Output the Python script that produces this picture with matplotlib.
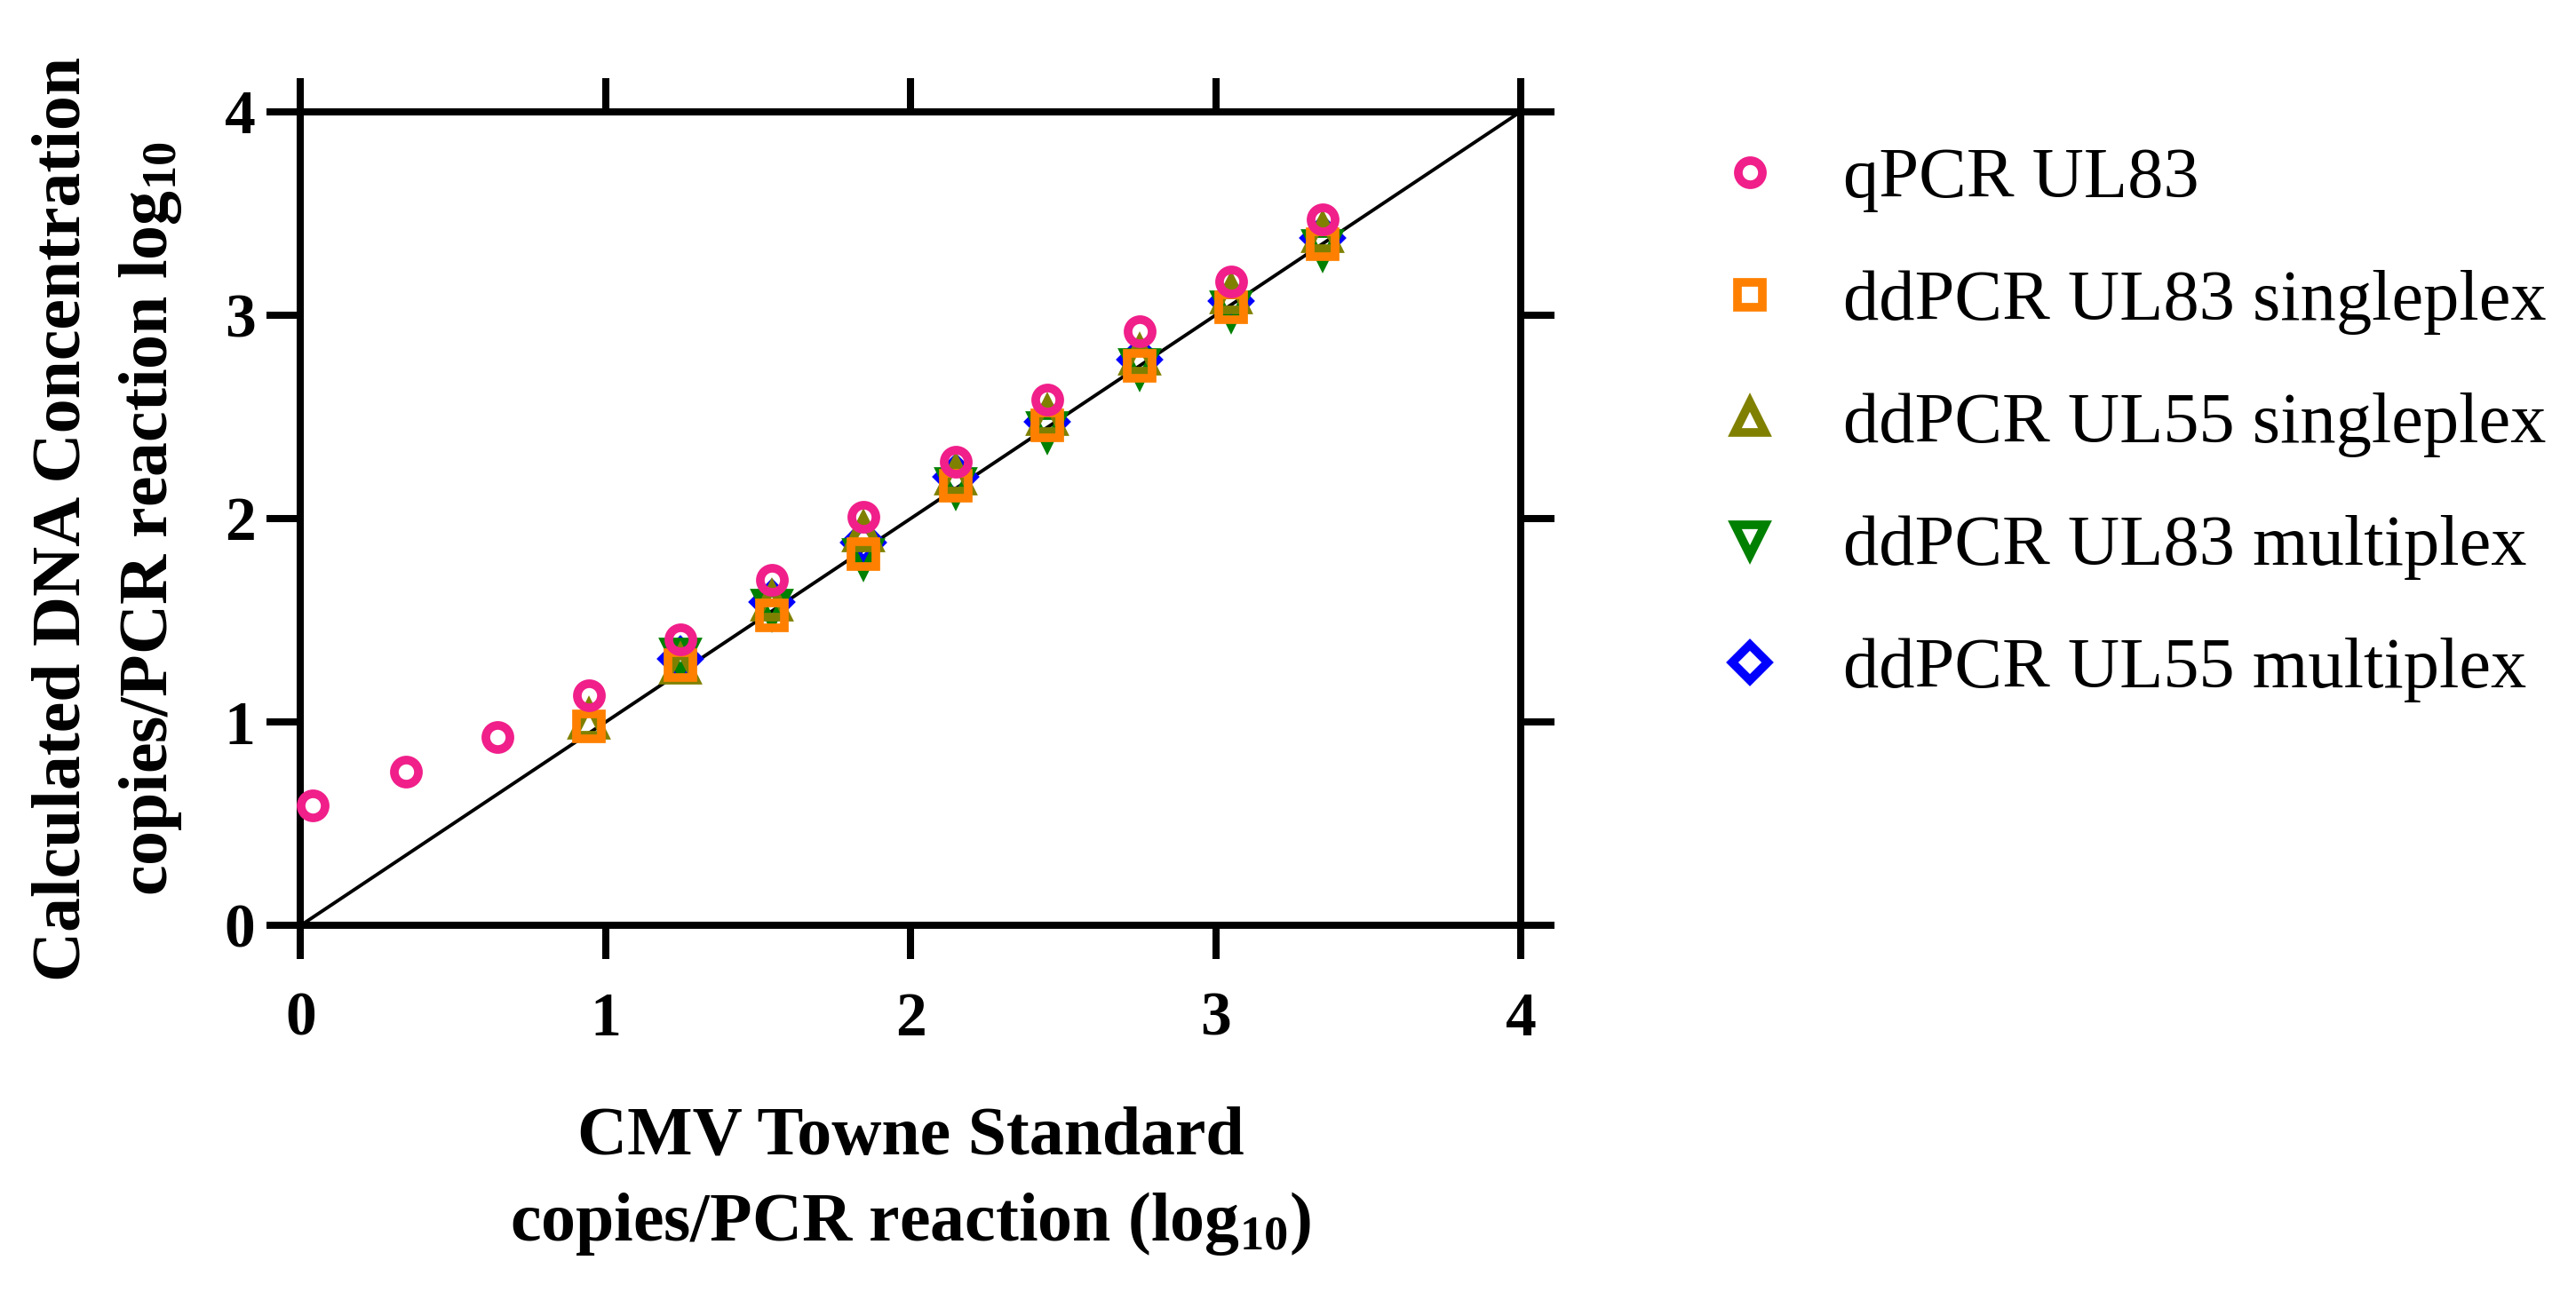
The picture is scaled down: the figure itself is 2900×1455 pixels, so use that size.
import matplotlib
matplotlib.use("Agg")
import matplotlib.pyplot as plt

plt.rcParams['font.family'] = ['Liberation Serif', 'DejaVu Serif']
plt.rcParams['mathtext.fontset'] = 'custom'
plt.rcParams['mathtext.rm'] = 'Liberation Serif'
plt.rcParams['mathtext.bf'] = 'Liberation Serif:bold'
plt.rcParams['mathtext.it'] = 'Liberation Serif:italic'

# ---- data ----
x_all = [0.04, 0.345, 0.645, 0.945, 1.245, 1.545, 1.846, 2.148, 2.448, 2.75, 3.05, 3.352]
qpcr_ul83 = [0.59, 0.755, 0.926, 1.133, 1.405, 1.697, 2.01, 2.279, 2.584, 2.919, 3.166, 3.471]

x_single = [0.945, 1.245, 1.545, 1.846, 2.148, 2.448, 2.75, 3.05, 3.352]
dd_ul83_single = [0.98, 1.28, 1.523, 1.826, 2.16, 2.46, 2.75, 3.04, 3.35]
dd_ul55_single = [1.01, 1.28, 1.59, 1.93, 2.21, 2.50, 2.80, 3.10, 3.40]

x_multi = [1.245, 1.545, 1.846, 2.148, 2.448, 2.75, 3.05, 3.352]
dd_ul83_multi = [1.32, 1.56, 1.81, 2.155, 2.43, 2.74, 3.025, 3.325]
dd_ul55_multi = [1.31, 1.59, 1.88, 2.206, 2.475, 2.78, 3.07, 3.377]

labels = ["qPCR UL83", "ddPCR UL83 singleplex", "ddPCR UL55 singleplex",
          "ddPCR UL83 multiplex", "ddPCR UL55 multiplex"]
colors = ["#F01F8A", "#FF8000", "#808000", "#008000", "#0000FF"]
ticks = [0, 1, 2, 3, 4]
identity = [0, 4]

DPI = 100
fig = plt.figure(figsize=(29.0, 14.55), dpi=DPI)
ax = fig.add_axes([338.3 / 2900, 1 - 1042.3 / 1455, (1712 - 338.3) / 2900, (1042.3 - 125.7) / 1455])

ax.plot(identity, identity, color='black', lw=2.8, zorder=1, solid_capstyle='butt')

mew = 7
series = [
    (x_multi, dd_ul55_multi, 'D', 20, colors[4], labels[4]),
    (x_multi, dd_ul83_multi, 'v', 24, colors[3], labels[3]),
    (x_single, dd_ul55_single, '^', 24, colors[2], labels[2]),
    (x_single, dd_ul83_single, 's', 19.5, colors[1], labels[1]),
    (x_all, qpcr_ul83, 'o', 19.5, colors[0], labels[0]),
]
handles = {}
for i, (xs, ys, m, ms, c, lab) in enumerate(series):
    h, = ax.plot(xs, ys, linestyle='none', marker=m, markersize=ms,
                 markerfacecolor='none', markeredgecolor=c, markeredgewidth=mew,
                 label=lab, zorder=3 + i, clip_on=False)
    handles[lab] = h

ax.set_xlim(0, 4)
ax.set_ylim(0, 4)
ax.set_xticks(ticks)
ax.set_yticks(ticks)
ax.set_xticklabels([str(t) for t in ticks])
ax.set_yticklabels([str(t) for t in ticks])
for s in ax.spines.values():
    s.set_linewidth(5.8)
ax.tick_params(direction='out', length=27.5, width=5.8, top=True, right=True,
               labeltop=False, labelright=False)
ax.tick_params(axis='x', pad=26, labelsize=50)
ax.tick_params(axis='y', pad=9, labelsize=50)
for lab in ax.get_xticklabels() + ax.get_yticklabels():
    lab.set_fontweight('bold')

fig.text(1025 / 2900, 1 - 1331 / 1455,
         "CMV Towne Standard\ncopies/PCR reaction (log$_{\\mathbf{10}}$)",
         ha='center', va='center', fontsize=56, fontweight='bold', linespacing=1.42,
         multialignment='center')
fig.text(121 / 2900, 1 - 584 / 1455,
         "Calculated DNA Concentration\ncopies/PCR reaction log$_{\\mathbf{10}}$",
         ha='center', va='center', fontsize=56, fontweight='bold', rotation=90,
         linespacing=1.45, multialignment='center')

leg = fig.legend([handles[l] for l in labels], labels, loc='upper left',
                 bbox_to_anchor=(1930 / 2900, 1 - 166 / 1455), frameon=False,
                 fontsize=58, numpoints=1, handlelength=1.0, handletextpad=0.8,
                 labelspacing=0.80, borderpad=0, borderaxespad=0)

fig.savefig("out.png", dpi=DPI)
